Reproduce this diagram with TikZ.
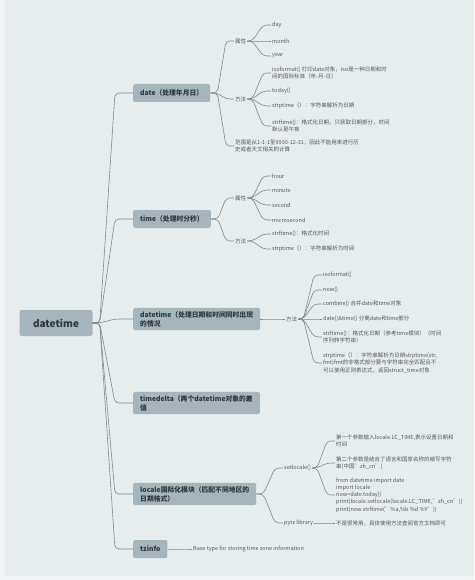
\documentclass[tikz,border=0pt]{standalone}
\usepackage{fontspec}
\setmainfont{Noto Sans CJK SC}
\usepackage{tikz}
\usetikzlibrary{calc,positioning}
\definecolor{bgc}{HTML}{E7ECEC}
\definecolor{boxc}{HTML}{A4B5BB}
\definecolor{linec}{HTML}{7E8B8F}
\definecolor{txtc}{HTML}{2C393E}
\definecolor{leafc}{HTML}{55595B}
\tikzset{rootnd/.style={fill=boxc,rounded corners=2pt,text=txtc,font=\fontsize{10}{12}\selectfont\bfseries,minimum width=73pt,minimum height=26pt}}
\tikzset{topic/.style={fill=boxc,rounded corners=2pt,text=txtc,font=\fontsize{6.8}{9}\selectfont\bfseries,align=left,anchor=west,inner xsep=7pt,minimum height=18pt}}
\tikzset{leaf/.style={text=leafc,font=\fontsize{5.5}{7.3}\selectfont,align=left,anchor=west,inner sep=1pt}}
\tikzset{conn/.style={draw=linec,line width=0.6pt,rounded corners=4pt}}
% parent, child, offset after parent, offset before child
\newcommand{\mmlink}[4]{\draw[conn] (#1.east) -- ++(#3,0) -- ($(#2.west)+(-#4,0)$) -- (#2.west);}
\newcommand{\sq}{\symbol{"27}}

\begin{document}
\begin{tikzpicture}[x=1pt,y=-1pt]
\fill[white!40!bgc] (0,0) rectangle (474,580);
\fill[bgc] (5,0) rectangle (474,576);
\useasboundingbox (0,0) rectangle (474,580);

\node [rootnd] at (56,323) (dt) {datetime};

\node [topic] at (133,93) (date) {date（处理年月日）};
\node [topic] at (133,219) (time) {time（处理时分秒）};
\node [topic] at (133,319) (dtm) {datetime（处理日期和时间同时出现\\的情况};
\node [topic] at (133,403) (tdelta) {timedelta（两个datetime对象的差\\值};
\node [topic] at (133,494) (loc) {locale国际化模块（匹配不同地区的\\日期格式）};
\node [topic] at (133,549) (tz) {tzinfo};
\foreach \t in {date,time,dtm,tdelta,loc,tz}
	{\mmlink{dt}{\t}{7}{18}}

% date
\node [leaf] at (234,41) (dattr) {属性};
\node [leaf] at (234,99) (dmeth) {方法};
\node [leaf] at (234,146) (drange) {范围是从1-1-1至9999-12-31，因此不能用来进行历\\史或者天文相关的计算};
\foreach \t in {dattr,dmeth,drange}
	{\mmlink{date}{\t}{7}{8}}

\node [leaf] at (271,25) (day) {day};
\node [leaf] at (271,41) (month) {month};
\node [leaf] at (271,56) (year) {year};
\foreach \t in {day,month,year}
	{\mmlink{dattr}{\t}{5}{8}}

\node [leaf] at (271,73) (diso) {isoformat() 打印date对象，iso是一种日期和时\\间的国际标准（年-月-日）};
\node [leaf] at (271,91) (dtoday) {today()};
\node [leaf] at (271,106) (dptime) {strptime（）：字符串解析为日期};
\node [leaf] at (271,126) (dftime) {strftime()：格式化日期，只获取日期部分，时间\\默认是午夜};
\foreach \t in {diso,dtoday,dptime,dftime}
	{\mmlink{dmeth}{\t}{5}{8}}

% time
\node [leaf] at (234,198) (tattr) {属性};
\node [leaf] at (234,241) (tmeth) {方法};
\foreach \t in {tattr,tmeth}
	{\mmlink{time}{\t}{7}{8}}

\node [leaf] at (271,176) (hour) {hour};
\node [leaf] at (271,190) (minute) {minute};
\node [leaf] at (271,205) (second) {second};
\node [leaf] at (271,220) (micro) {microsecond};
\foreach \t in {hour,minute,second,micro}
	{\mmlink{tattr}{\t}{5}{8}}

\node [leaf] at (271,234) (tftime) {strftime()：格式化时间};
\node [leaf] at (271,249) (tptime) {strptime（）：字符串解析为时间};
\foreach \t in {tftime,tptime}
	{\mmlink{tmeth}{\t}{5}{8}}

% datetime
\node [leaf] at (285,319) (dtmeth) {方法};
\mmlink{dtm}{dtmeth}{7}{8}

\node [leaf] at (322,275) (dtiso) {isoformat()};
\node [leaf] at (322,290) (dtnow) {now()};
\node [leaf] at (322,304) (dtcomb) {combine() 合并date和time对象};
\node [leaf] at (322,319) (dtsplit) {date()\&time() 分离date和time部分};
\node [leaf] at (322,337) (dtftime) {strftime()：格式化日期（参考time模块）（时间\\序列转字符串）};
\node [leaf] at (322,363) (dtptime) {strptime（）：字符串解析为日期strptime(str,\\fmt)fmt的非格式部分要与字符串完全匹配且不\\可以使用正则表达式，返回struct\_time对象};
\foreach \t in {dtiso,dtnow,dtcomb,dtsplit,dtftime,dtptime}
	{\mmlink{dtmeth}{\t}{5}{8}}

% locale
\node [leaf] at (283,468) (setloc) {setlocale()};
\node [leaf] at (283,523) (pytz) {pytz library};
\foreach \t in {setloc,pytz}
	{\mmlink{loc}{\t}{7}{8}}

\node [leaf] at (335,441) (larg1) {第一个参数输入locale.LC\_TIME,表示设置日期和\\时间};
\node [leaf] at (335,463) (larg2) {第二个参数是结合了语言和国家名称的缩写字符\\串(中国\sq zh\_cn\sq)};
\node [leaf] at (335,495) (lcode) {from datetime import date\\import locale\\now=date.today()\\print(locale.setlocale(locale.LC\_TIME,\sq zh\_cn\sq))\\print(now.strftime(\sq\%a,\%b \%d \%Y\sq))};
\foreach \t in {larg1,larg2,lcode}
	{\mmlink{setloc}{\t}{5}{8}}

\node [leaf] at (335,523) (pytznote) {不是很常用，具体使用方法查阅官方文档即可};
\mmlink{pytz}{pytznote}{5}{8}

% tzinfo
\node [leaf] at (192,549) (tznote) {Base type for storing time zone information};
\mmlink{tz}{tznote}{6}{10}
\end{tikzpicture}
\end{document}
